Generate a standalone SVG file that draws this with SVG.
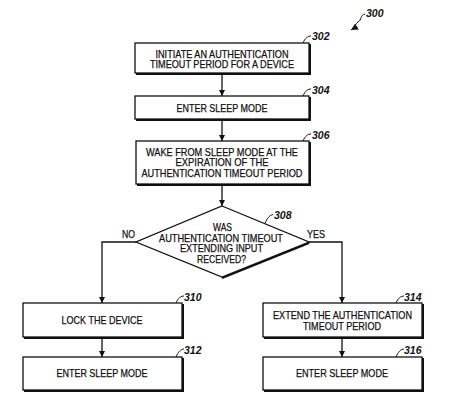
<svg xmlns="http://www.w3.org/2000/svg" width="474" height="420" viewBox="0 0 474 420">
<style>
.box{fill:#fff;stroke:#111;stroke-width:1.3}
.sh{fill:none;stroke:#111;stroke-width:2}
.t{font-family:"Liberation Sans",Arial,sans-serif;font-size:10.5px;fill:#111;stroke:#111;stroke-width:0.25;text-anchor:middle}
.ref{font-family:"Liberation Sans",Arial,sans-serif;font-size:10.5px;font-style:italic;font-weight:bold;fill:#111}
.ln{fill:none;stroke:#111;stroke-width:1.3}
.ld{fill:none;stroke:#111;stroke-width:1}
</style>
<defs>
<marker id="ah" viewBox="0 0 10 10" refX="10" refY="5" markerWidth="5" markerHeight="5" orient="auto" markerUnits="strokeWidth">
<path d="M0,0 L10,5 L0,10 z" fill="#111"/>
</marker>
<marker id="ah2" viewBox="0 0 10 10" refX="10" refY="5" markerWidth="7" markerHeight="7" orient="auto" markerUnits="strokeWidth">
<path d="M0,0 L10,5 L0,10 z" fill="#111"/>
</marker>
</defs>
<rect width="474" height="420" fill="#fff"/>

<g id="n300">
<path class="ld" d="M365,14 C360,15 362,20 358,22 C355,24 356,27 351,30" marker-end="url(#ah2)" stroke-width="1.2"/>
<text class="ref" x="366" y="16.5">300</text>
</g>

<g id="n302">
<path class="sh" d="M310,44 V74 H136"/>
<rect class="box" x="135" y="43" width="174" height="30"/>
<text class="t" x="222" y="57.5" textLength="133" lengthAdjust="spacingAndGlyphs">INITIATE AN AUTHENTICATION</text>
<text class="t" x="222" y="68" textLength="144" lengthAdjust="spacingAndGlyphs">TIMEOUT PERIOD FOR A DEVICE</text>
<path class="ld" d="M303,43 C305,38 308,36 311,36"/>
<text class="ref" x="312" y="40">302</text>
</g>

<g id="n304">
<path class="sh" d="M310,97 V120 H136"/>
<rect class="box" x="135" y="96" width="174" height="23"/>
<text class="t" x="222" y="112" textLength="91" lengthAdjust="spacingAndGlyphs">ENTER SLEEP MODE</text>
<path class="ld" d="M303,96 C305,91 308,89 311,89"/>
<text class="ref" x="312" y="93.5">304</text>
</g>

<g id="n306">
<path class="sh" d="M310,142 V185 H137"/>
<rect class="box" x="136" y="141" width="173" height="43"/>
<text class="t" x="222" y="155.8" textLength="152" lengthAdjust="spacingAndGlyphs">WAKE FROM SLEEP MODE AT THE</text>
<text class="t" x="222" y="166.3" textLength="93" lengthAdjust="spacingAndGlyphs">EXPIRATION OF THE</text>
<text class="t" x="222" y="176.8" textLength="161" lengthAdjust="spacingAndGlyphs">AUTHENTICATION TIMEOUT PERIOD</text>
<path class="ld" d="M303,141 C305,136 308,134 311,134"/>
<text class="ref" x="312" y="138.5">306</text>
</g>

<g id="n308">
<path class="sh" d="M309,243 L222,278"/>
<polygon class="box" points="222,206 309,242 222,277 136,242"/>
<text class="t" x="222.5" y="230.8" textLength="19" lengthAdjust="spacingAndGlyphs">WAS</text>
<text class="t" x="221" y="241.6" textLength="124" lengthAdjust="spacingAndGlyphs">AUTHENTICATION TIMEOUT</text>
<text class="t" x="221.5" y="252.1" textLength="83" lengthAdjust="spacingAndGlyphs">EXTENDING INPUT</text>
<text class="t" x="221.5" y="262.6" textLength="49" lengthAdjust="spacingAndGlyphs">RECEIVED?</text>
<path class="ld" d="M265,223.5 C267,218 270,215 273,214.5"/>
<text class="ref" x="274" y="219">308</text>
</g>

<g id="n310">
<path class="sh" d="M183,304 V338 H24"/>
<rect class="box" x="23" y="303" width="159" height="34"/>
<text class="t" x="102" y="323.7" textLength="81" lengthAdjust="spacingAndGlyphs">LOCK THE DEVICE</text>
<path class="ld" d="M176,303 C178,298 181,296 184,296"/>
<text class="ref" x="184" y="300.5">310</text>
</g>

<g id="n312">
<path class="sh" d="M183,358 V391 H24"/>
<rect class="box" x="23" y="357" width="159" height="33"/>
<text class="t" x="102" y="377.2" textLength="91" lengthAdjust="spacingAndGlyphs">ENTER SLEEP MODE</text>
<path class="ld" d="M176,357 C178,352 181,349 184,349"/>
<text class="ref" x="184" y="353.5">312</text>
</g>

<g id="n314">
<path class="sh" d="M423,304 V338 H264"/>
<rect class="box" x="263" y="303" width="159" height="34"/>
<text class="t" x="342.5" y="319" textLength="139" lengthAdjust="spacingAndGlyphs">EXTEND THE AUTHENTICATION</text>
<text class="t" x="342" y="329.6" textLength="78" lengthAdjust="spacingAndGlyphs">TIMEOUT PERIOD</text>
<path class="ld" d="M396,303 C398,298 401,296 404,296"/>
<text class="ref" x="404" y="300.5">314</text>
</g>

<g id="n316">
<path class="sh" d="M423,358 V391 H264"/>
<rect class="box" x="263" y="357" width="159" height="33"/>
<text class="t" x="342" y="377.2" textLength="92" lengthAdjust="spacingAndGlyphs">ENTER SLEEP MODE</text>
<path class="ld" d="M396,357 C398,352 401,349 404,349"/>
<text class="ref" x="404" y="353.5">316</text>
</g>

<g id="connectors">
<path class="ln" d="M222,74 V96" marker-end="url(#ah)"/>
<path class="ln" d="M222,120 V141" marker-end="url(#ah)"/>
<path class="ln" d="M222,185 V206" marker-end="url(#ah)"/>
<path class="ln" d="M136,242 H102 V303" marker-end="url(#ah)"/>
<path class="ln" d="M309,242 H342 V303" marker-end="url(#ah)"/>
<path class="ln" d="M102,338 V357" marker-end="url(#ah)"/>
<path class="ln" d="M342,338 V357" marker-end="url(#ah)"/>
<text class="t" x="128.5" y="238" textLength="13" lengthAdjust="spacingAndGlyphs">NO</text>
<text class="t" x="316" y="238" textLength="18" lengthAdjust="spacingAndGlyphs">YES</text>
</g>
</svg>
